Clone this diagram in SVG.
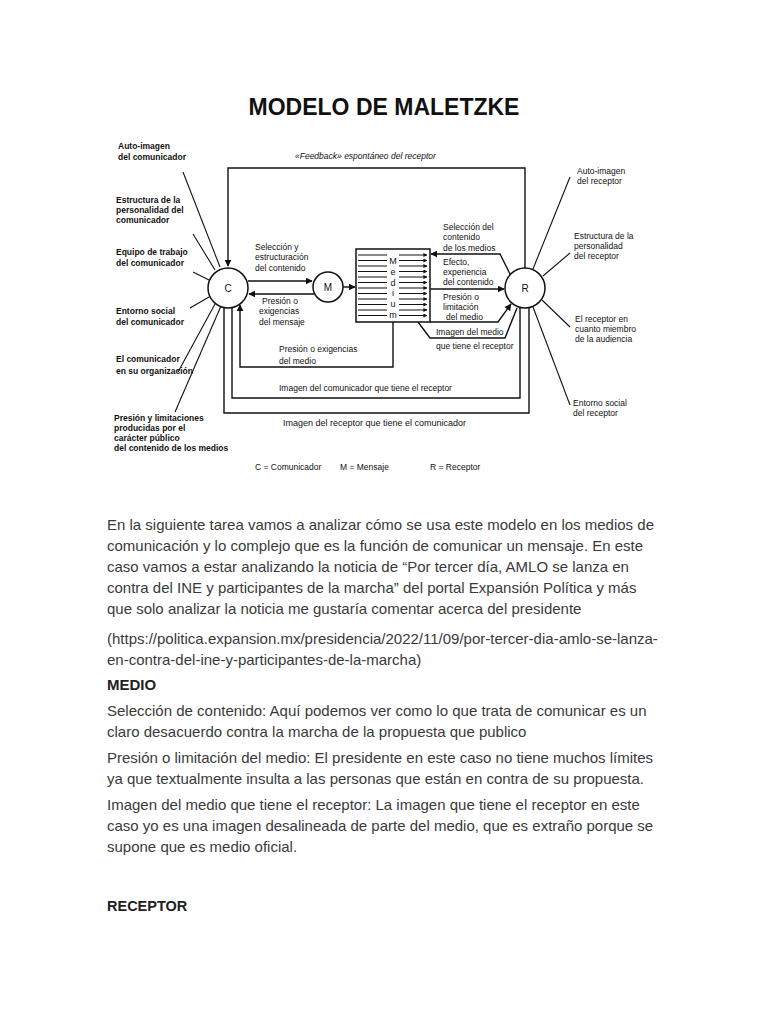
<svg xmlns="http://www.w3.org/2000/svg" width="768" height="1024" viewBox="0 0 768 1024">
<style>
.bg{fill:#fff}
.ln{fill:none;stroke:#111;stroke-width:1.4}
.th{fill:none;stroke:#111;stroke-width:1.1}
.nd{fill:#fff;stroke:#111;stroke-width:1.5}
.lb{font-family:"Liberation Sans",Arial,sans-serif;font-size:8.5px;fill:#111}
.lbb{font-family:"Liberation Sans",Arial,sans-serif;font-size:8.5px;font-weight:bold;fill:#111}
.ch{font-family:"Liberation Sans",Arial,sans-serif;font-size:10px;fill:#111;text-anchor:middle}
.ttl{font-family:"Liberation Sans",Arial,sans-serif;font-size:23px;font-weight:bold;fill:#111;text-anchor:middle}
.bd{font-family:"Liberation Sans",Arial,sans-serif;font-size:15px;fill:#3a3a3a}
.bh{font-family:"Liberation Sans",Arial,sans-serif;font-size:15px;font-weight:bold;fill:#222}
</style>
<defs>
<marker id="ah" viewBox="0 0 10 10" refX="9" refY="5" markerWidth="7" markerHeight="7" markerUnits="userSpaceOnUse" orient="auto"><path d="M0,0 L10,5 L0,10 z" fill="#111"/></marker>
<marker id="as" viewBox="0 0 10 10" refX="9" refY="5" markerWidth="4" markerHeight="4" markerUnits="userSpaceOnUse" orient="auto"><path d="M0,0 L10,5 L0,10 z" fill="#111"/></marker>
</defs>
<rect class="bg" width="768" height="1024"/>
<text class="ttl" x="384" y="115">MODELO DE MALETZKE</text>

<g id="connectors">
<path class="ln" d="M525 268 V168 H228 V266" marker-end="url(#ah)"/>
<path class="ln" d="M248 281 H312" marker-end="url(#ah)"/>
<path class="ln" d="M314 294 H249" marker-end="url(#ah)"/>
<path class="ln" d="M343 287 H355" marker-end="url(#ah)"/>
<path class="ln" d="M393 322 V367 H240 V305" marker-end="url(#ah)"/>
<path class="ln" d="M520 307 V398 H232 V308"/>
<path class="ln" d="M529 308 V413 H224 V308"/>
<path class="ln" d="M510 274 L500 254 H431" marker-end="url(#ah)"/>
<path class="ln" d="M430 289 H504" marker-end="url(#ah)"/>
<path class="ln" d="M430 322 H498 L511 304" marker-end="url(#ah)"/>
<path class="ln" d="M418 322 L430 338 H505 L517 308"/>
<!-- C spokes -->
<path class="th" d="M183 172 L220 267"/>
<path class="th" d="M193 234 L215 270"/>
<path class="th" d="M193 272 L209 280"/>
<path class="th" d="M190 308 L209 297"/>
<path class="th" d="M178 372 L215 304"/>
<path class="th" d="M175 412 L221 306"/>
<!-- R spokes -->
<path class="th" d="M570 177 L533 269"/>
<path class="th" d="M570 253 L543 276"/>
<path class="th" d="M570 327 L542 300"/>
<path class="th" d="M570 405 L533 307"/>
</g>

<g id="node-C">
<circle class="nd" cx="228" cy="288" r="20"/>
<text class="ch" x="228" y="292">C</text>
</g>
<g id="node-M">
<circle class="nd" cx="328" cy="287" r="15"/>
<text class="ch" x="328" y="291">M</text>
</g>
<g id="node-R">
<circle class="nd" cx="525" cy="288" r="20"/>
<text class="ch" x="525" y="292">R</text>
</g>
<g id="node-medium">
<rect class="nd" x="356" y="249" width="74" height="73"/>
<g class="th">
<path d="M358 255 H387 M399 255 H427" marker-end="url(#as)"/>
<path d="M358 260.5 H387 M399 260.5 H427" marker-end="url(#as)"/>
<path d="M358 266 H387 M399 266 H427" marker-end="url(#as)"/>
<path d="M358 271.5 H387 M399 271.5 H427" marker-end="url(#as)"/>
<path d="M358 277 H387 M399 277 H427" marker-end="url(#as)"/>
<path d="M358 282.5 H387 M399 282.5 H427" marker-end="url(#as)"/>
<path d="M358 288 H387 M399 288 H427" marker-end="url(#as)"/>
<path d="M358 293.5 H387 M399 293.5 H427" marker-end="url(#as)"/>
<path d="M358 299 H387 M399 299 H427" marker-end="url(#as)"/>
<path d="M358 304.5 H387 M399 304.5 H427" marker-end="url(#as)"/>
<path d="M358 310 H387 M399 310 H427" marker-end="url(#as)"/>
<path d="M358 315.5 H387 M399 315.5 H427" marker-end="url(#as)"/>
</g>
<g class="ch" style="font-size:9px">
<rect x="388" y="255" width="10" height="64" fill="#fff"/>
<text x="393" y="264">M</text>
<text x="393" y="275">e</text>
<text x="393" y="286">d</text>
<text x="393" y="296">i</text>
<text x="393" y="307">u</text>
<text x="393" y="318">m</text>
</g>
</g>

<g id="labels-communicator">
<text class="lbb" x="118" y="149">Auto-imagen</text>
<text class="lbb" x="118" y="160">del comunicador</text>
<text class="lbb" x="116" y="203">Estructura de la</text>
<text class="lbb" x="116" y="213">personalidad del</text>
<text class="lbb" x="116" y="223">comunicador</text>
<text class="lbb" x="116" y="255">Equipo de trabajo</text>
<text class="lbb" x="116" y="266">del comunicador</text>
<text class="lbb" x="116" y="314">Entorno social</text>
<text class="lbb" x="116" y="325">del comunicador</text>
<text class="lbb" x="116" y="362">El comunicador</text>
<text class="lbb" x="116" y="374">en su organización</text>
<text class="lbb" x="114" y="421">Presión y limitaciones</text>
<text class="lbb" x="114" y="431">producidas por el</text>
<text class="lbb" x="114" y="441">carácter público</text>
<text class="lbb" x="114" y="451">del contenido de los medios</text>
</g>
<g id="labels-receptor">
<text class="lb" x="577" y="174">Auto-imagen</text>
<text class="lb" x="577" y="184">del receptor</text>
<text class="lb" x="574" y="239">Estructura de la</text>
<text class="lb" x="574" y="249">personalidad</text>
<text class="lb" x="574" y="259">del receptor</text>
<text class="lb" x="575" y="322">El receptor en</text>
<text class="lb" x="575" y="332">cuanto miembro</text>
<text class="lb" x="575" y="342">de la audiencia</text>
<text class="lb" x="573" y="406">Entorno social</text>
<text class="lb" x="573" y="416">del receptor</text>
</g>
<g id="labels-flows">
<text class="lb" x="295" y="159" font-style="italic">«Feedback» espontáneo del receptor</text>
<text class="lb" x="255" y="250">Selección y</text>
<text class="lb" x="255" y="260">estructuración</text>
<text class="lb" x="255" y="271">del contenido</text>
<text class="lb" x="262" y="304">Presión o</text>
<text class="lb" x="259" y="314">exigencias</text>
<text class="lb" x="259" y="325">del mensaje</text>
<text class="lb" x="279" y="352">Presión o exigencias</text>
<text class="lb" x="279" y="364">del medio</text>
<text class="lb" x="443" y="230">Selección del</text>
<text class="lb" x="443" y="240">contenido</text>
<text class="lb" x="443" y="251">de los medios</text>
<text class="lb" x="443" y="265">Efecto,</text>
<text class="lb" x="443" y="275">experiencia</text>
<text class="lb" x="443" y="285">del contenido</text>
<text class="lb" x="443" y="300">Presión o</text>
<text class="lb" x="443" y="310">limitación</text>
<text class="lb" x="446" y="320">del medio</text>
<text class="lb" x="436" y="335">Imagen del medio</text>
<text class="lb" x="436" y="349">que tiene el receptor</text>
<text class="lb" x="279" y="391">Imagen del comunicador que tiene el receptor</text>
<text class="lb" x="283" y="426" style="font-size:9px">Imagen del  receptor  que tiene el comunicador</text>
<text class="lb" x="255" y="470">C = Comunicador</text>
<text class="lb" x="340" y="470">M = Mensaje</text>
<text class="lb" x="430" y="470">R = Receptor</text>
</g>

<g id="body-text">
<text class="bd" x="107" y="530">En la siguiente tarea vamos a analizar cómo se usa este modelo en los medios de</text>
<text class="bd" x="107" y="551">comunicación y lo complejo que es la función de comunicar un mensaje. En este</text>
<text class="bd" x="107" y="572">caso vamos a estar analizando la noticia de “Por tercer día, AMLO se lanza en</text>
<text class="bd" x="107" y="593">contra del INE y participantes de la marcha” del portal Expansión Política y más</text>
<text class="bd" x="107" y="614">que solo analizar la noticia me gustaría comentar acerca del presidente</text>
<text class="bd" x="107" y="644">(https://politica.expansion.mx/presidencia/2022/11/09/por-tercer-dia-amlo-se-lanza-</text>
<text class="bd" x="107" y="665">en-contra-del-ine-y-participantes-de-la-marcha)</text>
<text class="bh" x="107" y="690">MEDIO</text>
<text class="bd" x="107" y="716">Selección de contenido: Aquí podemos ver como lo que trata de comunicar es un</text>
<text class="bd" x="107" y="737">claro desacuerdo contra la marcha de la propuesta que publico</text>
<text class="bd" x="107" y="763">Presión o limitación del medio: El presidente en este caso no tiene muchos límites</text>
<text class="bd" x="107" y="784">ya que textualmente insulta a las personas que están en contra de su propuesta.</text>
<text class="bd" x="107" y="810">Imagen del medio que tiene el receptor: La imagen que tiene el receptor en este</text>
<text class="bd" x="107" y="831">caso yo es una imagen desalineada de parte del medio, que es extraño porque se</text>
<text class="bd" x="107" y="852">supone que es medio oficial.</text>
<text class="bh" x="107" y="911" style="font-size:14.5px">RECEPTOR</text>
</g>
</svg>
